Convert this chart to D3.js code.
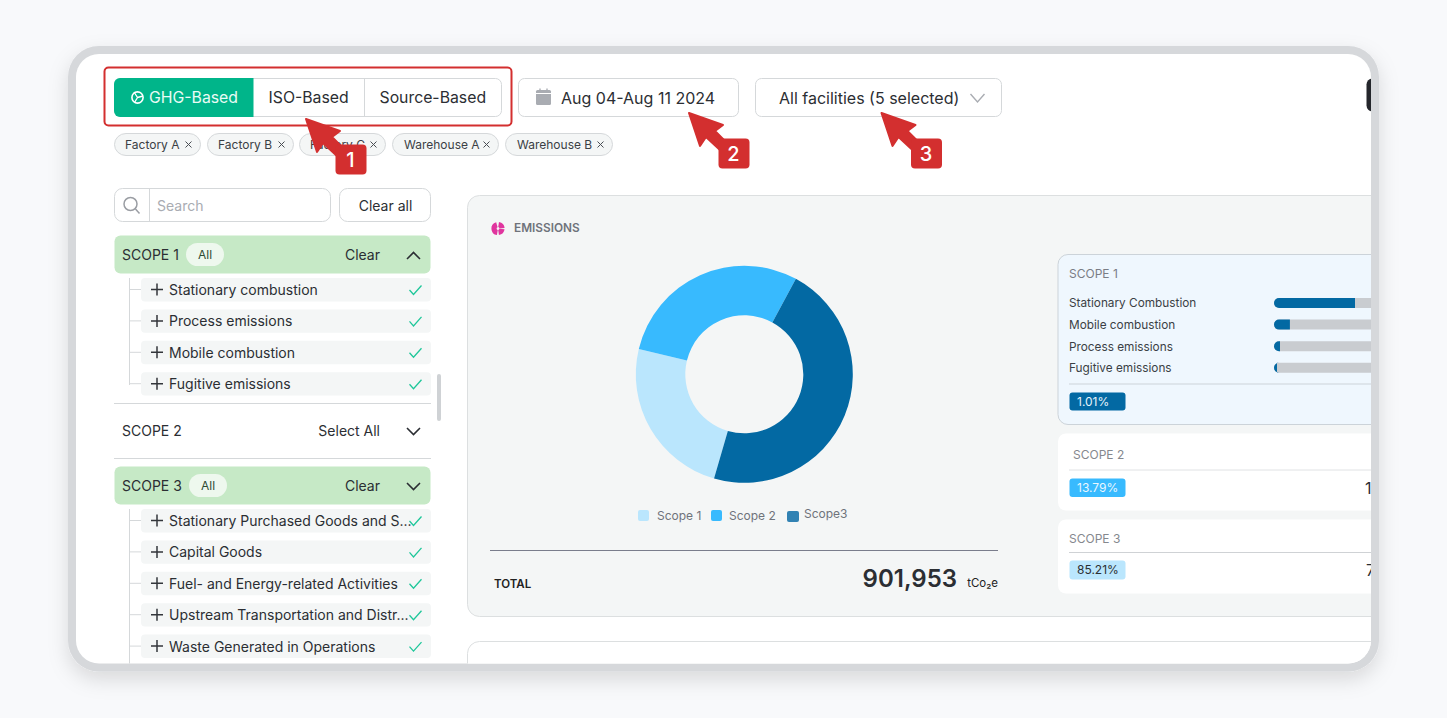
<!DOCTYPE html>
<html>
<head>
<meta charset="utf-8">
<title>Emissions dashboard</title>
<script src="https://cdn.jsdelivr.net/npm/d3@7"></script>
<style>
  html, body { margin: 0; padding: 0; background: #f8f9fb; overflow: hidden; }
  svg { display: block; }
  text { font-family: Inter, "Noto Sans", sans-serif; dominant-baseline: central; }
</style>
</head>
<body>
<div id="chart"></div>
<script>
// values
var modeLabels = ["GHG-Based", "ISO-Based", "Source-Based"];
var dateLabel = "Aug 04-Aug 11 2024";
var facilityLabel = "All facilities (5 selected)";
var facilityChips = ["Factory A", "Factory B", "Factory C", "Warehouse A", "Warehouse B"];
var scope1Items = ["Stationary combustion", "Process emissions", "Mobile combustion", "Fugitive emissions"];
var scope3Items = ["Stationary Purchased Goods and S...", "Capital Goods", "Fuel- and Energy-related Activities", "Upstream Transportation and Distr...", "Waste Generated in Operations"];
var scopeLabels = ["Scope 1", "Scope 2", "Scope3"];
var donutShares = [24.25, 29.14, 46.61];
var scope1Rows = ["Stationary Combustion", "Mobile combustion", "Process emissions", "Fugitive emissions"];
var scope1RowValues = [54, 10.6, 4, 2];
var scopePercents = ["1.01%", "13.79%", "85.21%"];
var totalLabel = "901,953";

var width = 1447, height = 718;
var blue = ["#bae6fd", "#38bafe", "#0369a3"];
var ink = "#2b2e33", line = "#d5d8da", panel = "#f4f6f6", green = "#c6e9c6", check = "#1fc79a", red = "#d32f2f";

var svg = d3.select("#chart").append("svg")
  .attr("width", width)
  .attr("height", height);

var defs = svg.append("defs");
defs.append("clipPath").attr("id", "inner")
  .append("rect").attr("x", 76).attr("y", 54).attr("width", 1295).attr("height", 609.5).attr("rx", 23);
var shadow = defs.append("filter").attr("id", "shadow")
  .attr("x", "-5%").attr("y", "-5%").attr("width", "110%").attr("height", "120%");
shadow.append("feDropShadow").attr("dx", 0).attr("dy", 8).attr("stdDeviation", 10)
  .attr("flood-color", "#000").attr("flood-opacity", 0.13);

// device frame
svg.append("rect")
  .attr("x", 68).attr("y", 46).attr("width", 1311).attr("height", 625.5).attr("rx", 31)
  .attr("fill", "#d6d8db")
  .attr("filter", "url(#shadow)");
svg.append("rect")
  .attr("x", 76).attr("y", 54).attr("width", 1295).attr("height", 609.5).attr("rx", 23)
  .attr("fill", "#fff");

var page = svg.append("g").attr("clip-path", "url(#inner)");

function box(g, x, y, w, h, r, fill, stroke) {
  return g.append("rect")
    .attr("x", x + 0.5).attr("y", y + 0.5).attr("width", w - 1).attr("height", h - 1).attr("rx", r)
    .attr("fill", fill).attr("stroke", stroke || "none");
}

function label(g, x, y, str, size, color, weight, anchor) {
  return g.append("text")
    .attr("x", x).attr("y", y)
    .attr("font-size", size)
    .attr("font-weight", weight || 400)
    .attr("text-anchor", anchor || "start")
    .attr("fill", color || ink)
    .text(str);
}

function stroke(g, d, color, w) {
  return g.append("path")
    .attr("d", d).attr("fill", "none").attr("stroke", color)
    .attr("stroke-width", w || 1.5);
}

// mode switch
box(page, 114, 78, 388, 39, 6, "#fff", line);
page.append("path").attr("d", "M253.5 78H120a6 6 0 0 0-6 6v27a6 6 0 0 0 6 6h133.5z").attr("fill", "#00b58a");
stroke(page, "M364.5 78V117", line, 1);
var modeX = [149, 268.5, 379.5];
modeLabels.forEach(function(d, i) {
  label(page, modeX[i], 97.5, d, 15.8, i == 0 ? "#e9fbf5" : ink);
});
page.append("circle").attr("cx", 137.5).attr("cy", 97.5).attr("r", 5.6).attr("fill", "none").attr("stroke", "#fff").attr("stroke-width", 1.6);
stroke(page, "M134 92L137.5 97.5L134.5 102.5M137.5 97.5L143 96", "#fff", 1.3);

// date picker
box(page, 518, 78, 221, 39, 6, "#fff", line);
page.append("rect").attr("x", 536).attr("y", 90).attr("width", 15).attr("height", 15).attr("rx", 1.5).attr("fill", "#a9acb2");
stroke(page, "M536 93.5H551", "#fff", 1);
stroke(page, "M540 88.5V91M547 88.5V91", "#a9acb2", 1.4);
label(page, 561, 97.5, dateLabel, 16, ink);

// facility select
box(page, 755, 78, 247, 39, 6, "#fff", line);
label(page, 779, 97.5, facilityLabel, 16, ink);
stroke(page, "M970.5 94L977.5 102L984.5 94", "#a9acb2", 1.4);

// dark button cut off by the frame
box(page, 1366, 78, 30, 34, 6, "#24262b");

// facility chips
var chipX = [114, 207, 299, 392, 505];
var chipW = [87, 87, 87, 107, 108];
var chipText = [125, 218, 310, 404, 517];
facilityChips.forEach(function(d, i) {
  box(page, chipX[i], 133, chipW[i], 23, 11.5, panel, line);
  label(page, chipText[i], 144, d, 12, "#3b3f45");
  var cx = chipX[i] + chipW[i] - 12.5;
  stroke(page, "M" + (cx - 3) + " 141.5l6 6m0-6l-6 6", "#4a4e54", 1);
});

// search row
box(page, 114, 188, 217, 34, 8, "#fff", line);
stroke(page, "M149.5 188V222", line, 1);
page.append("circle").attr("cx", 130.5).attr("cy", 204).attr("r", 6.5).attr("fill", "none").attr("stroke", "#9a9da3").attr("stroke-width", 1.5);
stroke(page, "M135.5 209L139.5 213.5", "#9a9da3", 1.5);
label(page, 157, 205, "Search", 14, "#a9acb2");
box(page, 339, 188, 92, 34, 8, "#fff", line);
label(page, 385.5, 205, "Clear all", 14, ink, 400, "middle");

function scopeHeader(title, y, pillX, up) {
  box(page, 114, y, 317, 39, 6, green);
  label(page, 122, y + 19, title, 14, ink);
  page.append("rect").attr("x", pillX).attr("y", y + 8).attr("width", 38).attr("height", 23).attr("rx", 11.5).attr("fill", "#eef8ee");
  label(page, pillX + 19, y + 19, "All", 12, "#2f4a33", 400, "middle");
  label(page, 380, y + 19, "Clear", 14, ink, 400, "end");
  stroke(page, up ? "M407 " + (y + 24) + "l6.5-6.5l6.5 6.5" : "M407 " + (y + 17) + "l6.5 6.5l6.5-6.5", "#2b2e33", 1.6);
}

function scopeItems(items, top, lineEnd) {
  stroke(page, "M129.5 " + top + "V" + lineEnd, line, 1);
  items.forEach(function(d, i) {
    var y = top + i * 31.4;
    stroke(page, "M129.5 " + (y + 11.5) + "H141", line, 1);
    page.append("rect").attr("x", 141).attr("y", y).attr("width", 290).attr("height", 23.4).attr("rx", 4).attr("fill", panel);
    stroke(page, "M151 " + (y + 11.5) + "H163M157 " + (y + 5.5) + "V" + (y + 17.5), "#33363b", 1.5);
    label(page, 169, y + 11.5, d, 14, ink);
    stroke(page, "M409.5 " + (y + 12) + "l4 4.5l8-9", check, 1.3);
  });
}

scopeHeader("SCOPE 1", 235, 186, true);
scopeItems(scope1Items, 278, 385);
stroke(page, "M114 403.5H431", line, 1);
page.append("rect").attr("x", 437).attr("y", 374).attr("width", 4).attr("height", 47).attr("rx", 2).attr("fill", "#cfd2d5");
label(page, 122, 430.5, "SCOPE 2", 14, ink);
label(page, 380, 430.5, "Select All", 14, ink, 400, "end");
stroke(page, "M407 428l6.5 6.5l6.5-6.5", "#2b2e33", 1.6);
stroke(page, "M114 458.5H431", line, 1);
scopeHeader("SCOPE 3", 466, 189, false);
scopeItems(scope3Items, 509, 664);

// emissions panel
box(page, 467, 195, 960, 422, 12, panel, "#dcdfe0");
box(page, 467, 641, 960, 80, 12, "#fff", "#dcdfe0");
var iconArc = d3.arc().innerRadius(1.4).outerRadius(6.6);
[[0.15, 1.5], [1.7, 3.0], [3.3, 6.0]].forEach(function(d) {
  page.append("path")
    .attr("transform", "translate(498,228.5)")
    .attr("d", iconArc({startAngle: d[0], endAngle: d[1]}))
    .attr("fill", "#e0359e");
});
label(page, 514, 228, "EMISSIONS", 11.8, "#6f737b", 600);

// donut
var pie = d3.pie().sort(null).value(function(d) { return d; })
  .startAngle(-2.859).endAngle(-2.859 + 2 * Math.PI);
var arc = d3.arc().innerRadius(59).outerRadius(108.5);
page.append("g")
  .attr("transform", "translate(744.3,374.3)")
  .selectAll("path")
  .data(pie(donutShares))
  .enter()
  .append("path")
    .attr("d", arc)
    .attr("fill", function(d, i) { return blue[i]; });

// legend
var legendSwatch = [[638, 510], [711, 510], [787, 511]];
var legendText = [[657, 515.5], [729, 515.5], [804, 513.5]];
var legendFill = [blue[0], blue[1], "#3182b3"];
scopeLabels.forEach(function(d, i) {
  page.append("rect")
    .attr("x", legendSwatch[i][0]).attr("y", legendSwatch[i][1])
    .attr("width", i == 2 ? 12 : 11).attr("height", 11).attr("rx", 2)
    .attr("fill", legendFill[i]);
  label(page, legendText[i][0], legendText[i][1], d, 12, "#6f737b");
});

// total
stroke(page, "M490 550.5H998", "#7a7d8c", 1);
label(page, 494, 583.5, "TOTAL", 11.5, "#222", 600);
label(page, 957, 578.5, totalLabel, 24, ink, 600, "end");
label(page, 998, 582.5, "tCo\u2082e", 11.5, "#222", 400, "end");

// scope 1 card
box(page, 1057.5, 254, 400, 171, 10, "#eff7fe", "#ccd3d9");
label(page, 1069, 273.5, "SCOPE 1", 12, "#7a7d85");
var barX = d3.scaleLinear().domain([0, 100]).range([1274, 1424]);
scope1Rows.forEach(function(d, i) {
  var y = 303 + i * 21.6;
  label(page, 1069, y + 0.3, d, 11.8, "#3b3f45");
  page.append("rect").attr("x", barX(0)).attr("y", y - 5).attr("width", barX(100) - barX(0)).attr("height", 10).attr("rx", 5).attr("fill", "#c9ccd0");
  page.append("path")
    .attr("d", "M" + barX(scope1RowValues[i]) + " " + (y - 5) + "H" + (barX(0) + 5) + "a5 5 0 0 0 0 10H" + barX(scope1RowValues[i]) + "z")
    .attr("fill", blue[2]);
});
stroke(page, "M1069 384H1400", "#ccd3d9", 1);
box(page, 1069, 392, 57, 19, 3, blue[2]);
label(page, 1077, 401, scopePercents[0], 12, "#e6f3fb");

// scope 2 and 3 cards
box(page, 1057.5, 433, 400, 78, 8, "#fff");
label(page, 1073, 454, "SCOPE 2", 12, "#85888e");
stroke(page, "M1069 470H1400", "#e0e2e4", 1);
box(page, 1069, 478, 57, 19.5, 3, blue[1]);
label(page, 1077, 487, scopePercents[1], 12, "#eaf7ff");
label(page, 1365, 488, "1", 16, ink);

box(page, 1057.5, 519, 400, 75, 8, "#fff");
label(page, 1069, 538.5, "SCOPE 3", 12, "#85888e");
stroke(page, "M1069 552.5H1400", "#cfd2d5", 1);
box(page, 1069, 560, 57, 20, 3, blue[0]);
label(page, 1077, 569.5, scopePercents[2], 12, ink);
label(page, 1366, 570, "7", 16, ink);

// red callouts, drawn last so they sit on the chips
svg.append("rect").attr("x", 104.5).attr("y", 67.5).attr("width", 407).attr("height", 58).attr("rx", 4)
  .attr("fill", "none").attr("stroke", red).attr("stroke-width", 2);

function callout(tipX, tipY, num) {
  var g = svg.append("g").attr("transform", "translate(" + tipX + "," + tipY + ")");
  g.append("path")
    .attr("d", "M1 1L35 13L27 19L40 32L32 38L18 25L12 34z")
    .attr("fill", red).attr("stroke", red).attr("stroke-width", 2).attr("stroke-linejoin", "round");
  box(g, 30, 26, 32, 31, 4, red);
  label(g, 45.5, 41.5, num, 20, "#fff", 500, "middle");
}
callout(305, 118, "1");
callout(688, 112, "2");
callout(880.5, 112, "3");
</script>
</body>
</html>
